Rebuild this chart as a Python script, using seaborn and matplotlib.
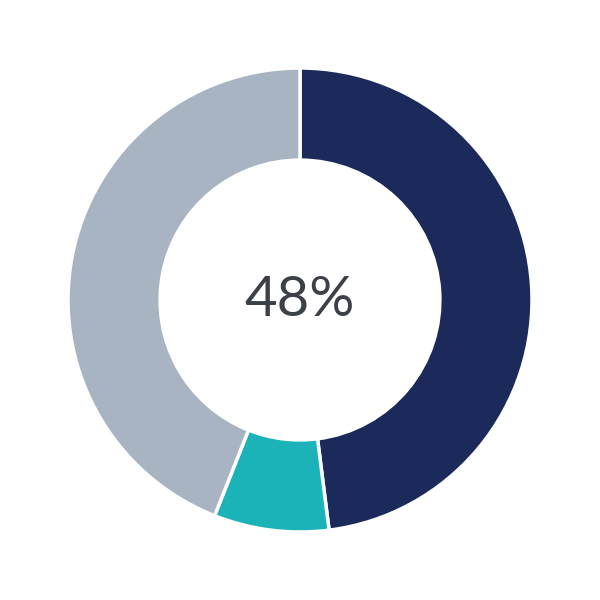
import matplotlib
matplotlib.use("Agg")
import matplotlib.pyplot as plt
import seaborn as sns

# donut segments, clockwise from 12 o'clock
labels = ["Yes", "Unsure", "No"]
values = [48, 8, 44]
colors = ["#1b2a5b", "#1bb3b7", "#a9b4c3"]
center_text = "48%"

sns.set_theme(style="white")
plt.rcParams['font.family'] = ['Lato', 'DejaVu Sans']

fig = plt.figure(figsize=(6, 6), dpi=100)
ax = fig.add_axes([0, 0, 1, 1])

ax.pie(values, colors=colors, startangle=90, counterclock=False,
       radius=1.0, wedgeprops=dict(width=0.397, edgecolor='white', linewidth=2.5))

ax.text(0, 0, center_text, ha='center', va='center', fontsize=40.5,
        color='#3b4049')

lim = 300 / 232
ax.set_xlim(-lim, lim)
ax.set_ylim(-lim, lim)
ax.set_aspect('equal')
ax.axis('off')

fig.savefig("out.png", dpi=100, facecolor='white')
